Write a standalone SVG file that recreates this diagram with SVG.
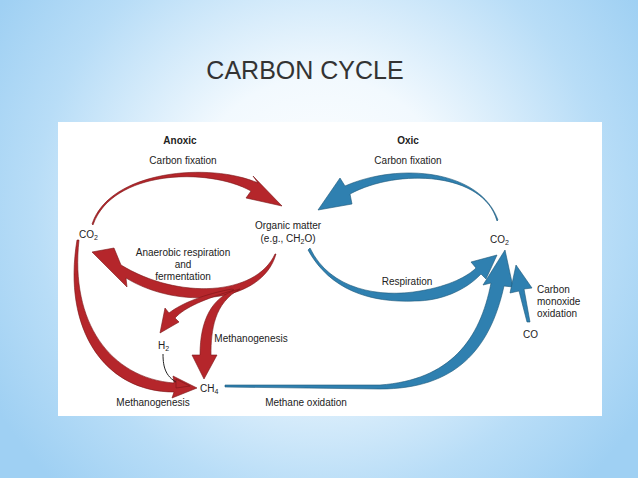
<svg xmlns="http://www.w3.org/2000/svg" width="638" height="478" viewBox="0 0 638 478">
<defs>
<radialGradient id="bg" cx="320" cy="210" r="380" gradientUnits="userSpaceOnUse">
<stop offset="0" stop-color="#ffffff"/><stop offset="0.35" stop-color="#f2f9fe"/><stop offset="0.75" stop-color="#b8ddf7"/><stop offset="1" stop-color="#9fd0f3"/>
</radialGradient>
<style>
text{font-family:"Liberation Sans",Arial,sans-serif;font-size:10px;fill:#222}
.c{text-anchor:middle}
.b{font-weight:bold}
.r{fill:#b5262b;stroke:#7a1518;stroke-width:0.6}
.u{fill:#2f80b0;stroke:#1d5878;stroke-width:0.6}
.t{fill:none;stroke:#222;stroke-width:1}
</style>
</defs>
<rect width="638" height="478" fill="url(#bg)"/>
<rect x="58" y="122" width="544" height="294" fill="#fff"/>
<text x="305" y="79" class="c" style="font-size:25px;fill:#333">CARBON CYCLE</text>
<g id="connectors">
<path class="r" d="M92,224 C110,170 210,162 258,183 L253,176 L282,206 L246,198 L251,191 C208,167 112,170 93,225 Z"/>
<path class="u" d="M498,220 C480,170 400,162 345,186 L340,178 L318,210 L352,204 L350,194 C398,168 484,172 497,221 Z"/>
<path class="r" d="M276,254 C262,304 178,310 126,278 L127,287 L92,252 L114,248 L121,265 C178,300 256,296 275,254 Z"/>
<path class="r" d="M234,290 C205,299 185,307 175,318 L179,322 L160,333 L165,308 L169,313 C182,303 205,294 232,289 Z"/>
<path class="r" d="M240,289 C214,303 211,330 211,355 L217,355 L204,379 L192,355 L200,355 C200,320 212,297 236,290 Z"/>
<path class="r" d="M79,240 C70,322 110,378 174,383 L173,376 L197,388 L172,398 L174,392 C105,392 62,330 77,240 Z"/>
<path class="t" d="M163,354 C163,368 166,378 180,384"/>
<path class="r" d="M176,379 L190,386 L176,388 Z"/>
<path class="u" d="M225,385 L380,385 C450,380 480,340 491,283 L483,285 L505,250 L513,287 L504,286 C490,350 455,389 380,389 L225,387 Z"/>
<path class="u" d="M310,248 C330,290 380,298 420,291 C450,286 468,276 476,268 L471,262 L497,255 L486,279 L481,274 C465,291 440,301 415,301 C370,303 330,290 308,250 Z"/>
<path class="u" d="M527,322 L519,291 L510,293 L516,265 L532,288 L524,289 L530,322 Z"/>
</g>
<g id="labels">
<text x="180" y="144" class="c b">Anoxic</text>
<text x="183" y="164" class="c">Carbon fixation</text>
<text x="408" y="144" class="c b">Oxic</text>
<text x="408" y="164" class="c">Carbon fixation</text>
<text x="183" y="256" class="c">Anaerobic respiration</text>
<text x="183" y="268" class="c">and</text>
<text x="183" y="280" class="c">fermentation</text>
<text x="407" y="285" class="c">Respiration</text>
<text x="251" y="342" class="c">Methanogenesis</text>
<text x="153" y="406" class="c">Methanogenesis</text>
<text x="306" y="406" class="c">Methane oxidation</text>
<text x="537" y="293">Carbon</text>
<text x="537" y="305">monoxide</text>
<text x="537" y="317">oxidation</text>
</g>
<g id="co2-left"><text x="79" y="238">CO<tspan dy="2" style="font-size:7px">2</tspan></text></g>
<g id="organic"><text x="288" y="229" class="c">Organic matter</text><text x="288" y="242" class="c">(e.g., CH<tspan dy="2" style="font-size:7px">2</tspan><tspan dy="-2">O)</tspan></text></g>
<g id="co2-right"><text x="490" y="243">CO<tspan dy="2" style="font-size:7px">2</tspan></text></g>
<g id="h2"><text x="158" y="349">H<tspan dy="2" style="font-size:7px">2</tspan></text></g>
<g id="ch4"><text x="200" y="392">CH<tspan dy="2" style="font-size:7px">4</tspan></text></g>
<g id="co"><text x="523" y="338">CO</text></g>
</svg>
